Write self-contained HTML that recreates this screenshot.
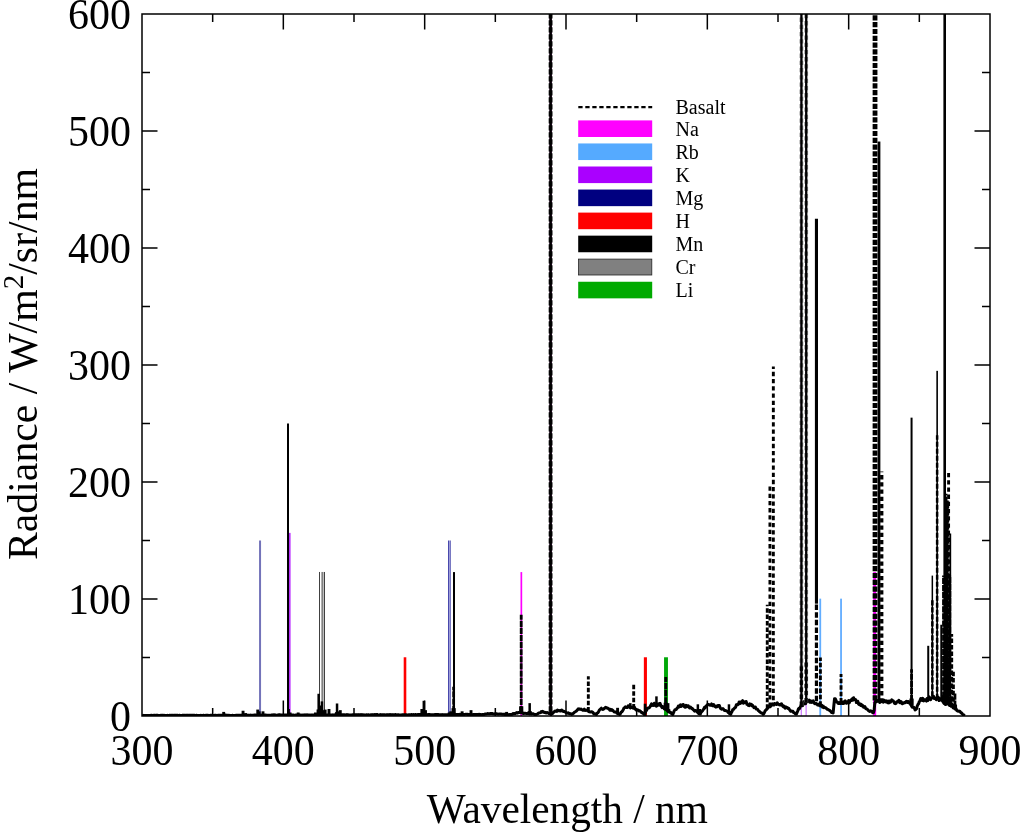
<!DOCTYPE html>
<html lang="en"><head><meta charset="utf-8"><title>Basalt emission spectrum</title>
<style>html,body{margin:0;padding:0;background:#fff}body{width:1020px;height:833px;overflow:hidden}svg{display:block}</style>
</head><body>
<svg width="1020" height="833" viewBox="0 0 1020 833">
<rect width="1020" height="833" fill="#fff"/>
<defs><clipPath id="c"><rect x="142.0" y="14.0" width="848.0" height="702.0"/></clipPath></defs>
<g clip-path="url(#c)">
<rect x="287.00" y="423.50" width="2.00" height="292.50" fill="#000000"/>
<rect x="289.00" y="532.89" width="1.60" height="183.11" fill="#bb33ff"/>
<rect x="403.70" y="657.27" width="2.60" height="58.73" fill="#ff0000"/>
<rect x="453.00" y="572.09" width="2.00" height="143.91" fill="#000000"/>
<rect x="520.49" y="572.09" width="1.70" height="143.91" fill="#ff00ff"/>
<rect x="549.74" y="-9.40" width="2.00" height="725.40" fill="#ff00ff"/>
<rect x="643.85" y="657.27" width="3.10" height="58.73" fill="#ff0000"/>
<rect x="664.05" y="657.27" width="3.90" height="58.73" fill="#00a808"/>
<rect x="800.67" y="-9.40" width="1.30" height="725.40" fill="#cf80ff"/>
<rect x="805.48" y="-9.40" width="1.30" height="725.40" fill="#cf80ff"/>
<rect x="814.90" y="218.75" width="3.10" height="384.93" fill="#000000"/>
<rect x="819.35" y="598.65" width="1.80" height="117.35" fill="#62adff"/>
<rect x="840.15" y="598.65" width="1.80" height="117.35" fill="#62adff"/>
<rect x="873.17" y="572.09" width="3.00" height="143.91" fill="#ff00ff"/>
<rect x="877.58" y="141.53" width="2.80" height="560.08" fill="#000000"/>
<rect x="910.56" y="417.65" width="2.00" height="287.33" fill="#000000"/>
<rect x="927.24" y="645.80" width="2.00" height="52.91" fill="#000000"/>
<rect x="931.59" y="575.60" width="1.50" height="122.35" fill="#000000"/>
<rect x="936.34" y="370.85" width="1.60" height="327.09" fill="#000000"/>
<rect x="940.29" y="624.74" width="1.90" height="75.53" fill="#000000"/>
<rect x="943.40" y="-9.40" width="2.60" height="711.67" fill="#000000"/>
<rect x="949.39" y="533.48" width="1.80" height="172.15" fill="#000000"/>
<rect x="259.05" y="540.50" width="2.00" height="175.50" fill="#7373b9"/>
<rect x="448.00" y="540.50" width="1.00" height="175.50" fill="#4848ac"/>
<rect x="449.00" y="540.50" width="1.00" height="175.50" fill="#9c9cd6"/>
<rect x="450.00" y="540.50" width="1.00" height="175.50" fill="#7878c2"/>
<rect x="319.00" y="571.97" width="1.00" height="144.03" fill="#404040"/>
<rect x="321.00" y="571.97" width="1.00" height="144.03" fill="#b0b0b0"/>
<rect x="322.00" y="571.97" width="1.00" height="144.03" fill="#808080"/>
<rect x="323.00" y="571.97" width="1.00" height="144.03" fill="#c0c0c0"/>
<rect x="324.00" y="571.97" width="1.00" height="144.03" fill="#404040"/>
</g>
<g clip-path="url(#c)" fill="none" stroke="#000">
<polyline stroke-width="3.0" stroke-linejoin="round" points="142.00,715.41 142.71,715.49 143.41,715.35 144.12,715.49 144.83,715.39 145.53,715.41 146.24,715.51 146.95,715.40 147.65,715.52 148.36,715.43 149.07,715.52 149.77,715.54 150.48,715.43 151.19,715.27 151.89,715.45 152.60,715.47 153.31,715.35 154.01,715.21 154.72,715.29 155.43,715.37 156.13,715.21 156.84,715.46 157.55,715.27 158.25,715.40 158.96,715.48 159.67,715.52 160.37,715.47 161.08,715.29 161.79,715.44 162.49,715.35 163.20,715.31 163.91,715.38 164.61,715.35 165.32,715.50 166.03,715.54 166.73,715.51 167.44,715.34 168.15,715.38 168.85,715.42 169.56,715.35 170.27,715.37 170.97,715.42 171.68,715.28 172.39,715.27 173.09,715.41 173.80,715.35 174.51,715.35 175.21,715.23 175.92,715.25 176.63,715.39 177.33,715.21 178.04,715.44 178.75,715.41 179.45,715.29 180.16,715.45 180.87,715.39 181.57,715.51 182.28,715.35 182.99,715.27 183.69,715.31 184.40,715.22 185.11,715.38 185.81,715.30 186.52,715.31 187.23,715.32 187.93,715.36 188.64,715.25 189.35,715.18 190.05,715.31 190.76,715.29 191.47,715.48 192.17,715.33 192.88,715.30 193.59,715.18 194.29,715.20 195.00,715.38 195.71,715.40 196.41,715.32 197.12,715.50 197.83,715.41 198.53,715.48 199.24,715.52 199.95,715.55 200.65,715.33 201.36,715.47 202.07,715.47 202.77,715.43 203.48,715.26 204.19,715.46 204.89,715.40 205.60,715.35 206.31,715.23 207.01,715.22 207.72,715.20 208.43,715.38 209.13,715.39 209.84,715.41 210.55,715.25 211.25,715.18 211.96,715.42 212.67,715.42 213.37,715.42 214.08,715.42 214.79,715.33 215.49,715.27 216.20,715.36 216.91,715.47 217.61,715.37 218.32,715.35 219.03,715.28 219.73,715.13 220.44,715.17 221.15,715.23 221.85,715.22 222.56,715.19 223.27,715.39 223.97,715.17 224.68,715.14 225.39,715.10 226.09,715.11 226.80,715.25 227.51,715.28 228.21,715.39 228.92,715.25 229.63,715.39 230.33,715.43 231.04,715.40 231.75,715.40 232.45,715.34 233.16,715.42 233.87,715.46 234.57,715.42 235.28,715.42 235.99,715.33 236.69,715.42 237.40,715.15 238.11,715.16 238.81,715.32 239.52,715.33 240.23,715.30 240.93,715.28 241.64,715.36 242.35,715.13 243.05,715.02 243.76,715.16 244.47,715.19 245.17,715.34 245.88,715.37 246.59,715.30 247.29,715.30 248.00,715.11 248.71,715.28 249.41,715.38 250.12,715.09 250.83,715.14 251.53,715.29 252.24,715.20 252.95,715.34 253.65,715.21 254.36,715.02 255.07,715.00 255.77,715.05 256.48,715.21 257.19,715.22 257.89,715.29 258.60,715.10 259.31,715.13 260.01,715.05 260.72,715.18 261.43,715.25 262.13,715.07 262.84,714.95 263.55,714.96 264.25,714.98 264.96,714.98 265.67,715.01 266.37,715.19 267.08,715.14 267.79,715.18 268.49,715.31 269.20,715.34 269.91,715.27 270.61,715.25 271.32,715.09 272.03,714.95 272.73,715.08 273.44,714.95 274.15,714.89 274.85,714.88 275.56,715.09 276.27,715.20 276.97,715.23 277.68,715.24 278.39,715.25 279.09,715.10 279.80,714.95 280.51,714.93 281.21,715.05 281.92,715.02 282.63,714.96 283.33,715.19 284.04,715.06 284.75,714.93 285.45,714.93 286.16,714.94 286.87,715.04 287.57,715.17 288.28,715.00 288.99,715.10 289.69,714.97 290.40,714.86 291.11,715.04 291.81,715.09 292.52,714.90 293.23,714.93 293.93,715.13 294.64,715.21 295.35,715.22 296.05,714.95 296.76,714.90 297.47,715.13 298.17,714.95 298.88,714.83 299.59,714.92 300.29,715.05 301.00,715.02 301.71,715.16 302.41,715.24 303.12,714.92 303.83,714.93 304.53,714.98 305.24,714.85 305.95,714.99 306.65,714.87 307.36,714.85 308.07,715.06 308.77,715.11 309.48,715.11 310.19,715.13 310.89,715.00 311.60,715.09 312.31,715.05 313.01,715.14 313.72,714.89 314.43,715.01 315.13,715.01 315.84,714.96 316.55,714.83 317.25,714.96 317.96,714.82 318.67,714.93 319.37,714.95 320.08,714.95 320.79,715.14 321.49,715.04 322.20,715.10 322.91,715.19 323.61,714.92 324.32,715.07 325.03,715.00 325.73,714.88 326.44,714.91 327.15,715.00 327.85,714.96 328.56,714.93 329.27,714.83 329.97,715.05 330.68,714.95 331.39,715.03 332.09,715.05 332.80,714.86 333.51,714.91 334.21,714.90 334.92,714.82 335.63,714.74 336.33,714.89 337.04,714.87 337.75,714.90 338.45,714.90 339.16,714.84 339.87,714.91 340.57,714.89 341.28,714.91 341.99,714.74 342.69,714.78 343.40,714.72 344.11,714.68 344.81,714.92 345.52,714.88 346.23,714.72 346.93,714.71 347.64,714.97 348.35,715.05 349.05,714.95 349.76,715.06 350.47,715.03 351.17,715.08 351.88,714.87 352.59,714.76 353.29,714.69 354.00,714.94 354.71,714.81 355.41,714.78 356.12,714.97 356.83,714.75 357.53,714.64 358.24,714.90 358.95,714.69 359.65,714.84 360.36,714.85 361.07,714.66 361.77,714.66 362.48,714.92 363.19,714.89 363.89,714.85 364.60,714.90 365.31,714.97 366.01,714.94 366.72,714.78 367.43,715.00 368.13,714.85 368.84,714.85 369.55,715.02 370.25,714.94 370.96,714.80 371.67,714.81 372.37,714.98 373.08,714.67 373.79,714.65 374.49,714.58 375.20,714.89 375.91,714.92 376.61,715.01 377.32,714.75 378.03,714.87 378.73,714.96 379.44,714.87 380.15,714.65 380.85,714.62 381.56,714.83 382.27,714.93 382.97,714.66 383.68,714.71 384.39,714.68 385.09,714.90 385.80,714.98 386.51,714.76 387.21,714.79 387.92,714.94 388.63,714.64 389.33,714.67 390.04,714.61 390.75,714.88 391.45,714.65 392.16,714.89 392.87,714.65 393.57,714.73 394.28,714.80 394.99,714.74 395.69,714.57 396.40,714.78 397.11,714.89 397.81,714.77 398.52,714.85 399.23,714.92 399.93,714.92 400.64,714.96 401.35,714.91 402.05,714.85 402.76,714.84 403.47,714.65 404.17,714.78 404.88,714.73 405.59,714.84 406.29,714.81 407.00,714.93 407.71,714.87 408.41,714.95 409.12,714.68 409.83,714.67 410.53,714.81 411.24,714.74 411.95,714.53 412.65,714.80 413.36,714.59 414.07,714.68 414.77,714.68 415.48,714.55 416.19,714.68 416.89,714.67 417.60,714.60 418.31,714.45 419.01,714.67 419.72,714.53 420.43,714.54 421.13,714.57 421.84,714.67 422.55,714.72 423.25,714.86 423.96,714.86 424.67,714.89 425.37,714.62 426.08,714.74 426.79,714.81 427.49,714.86 428.20,714.57 428.91,714.47 429.61,714.51 430.32,714.69 431.03,714.75 431.73,714.75 432.44,714.68 433.15,714.78 433.85,714.69 434.56,714.74 435.27,714.47 435.97,714.38 436.68,714.52 437.39,714.69 438.09,714.44 438.80,714.64 439.51,714.67 440.21,714.83 440.92,714.72 441.63,714.65 442.33,714.61 443.04,714.72 443.75,714.63 444.45,714.81 445.16,714.75 445.87,714.81 446.57,714.69 447.28,714.80 447.99,714.84 448.69,714.74 449.40,714.74 450.11,714.59 450.81,714.56 451.52,714.46 452.23,714.47 452.93,714.45 453.64,714.37 454.35,714.55 455.05,714.63 455.76,714.37 456.47,714.65 457.17,714.49 457.88,714.47 458.59,714.71 459.29,714.46 460.00,714.35 460.71,714.43 461.41,714.41 462.12,714.37 462.83,714.64 463.53,714.55 464.24,714.53 464.95,714.39 465.65,714.36 466.36,714.34 467.07,714.43 467.77,714.33 468.48,714.38 469.19,714.39 469.89,714.59 470.60,714.73 471.31,714.73 472.01,714.63 472.72,714.71 473.43,714.42 474.13,714.45 474.84,714.43 475.55,714.42 476.25,714.40 476.96,714.47 477.67,714.69 478.37,714.42 479.08,714.36 479.79,714.44 480.49,714.45 481.20,714.76 481.91,714.77 482.61,714.42 483.32,714.44 484.03,714.46 484.73,714.31 485.44,713.99 486.15,714.10 486.85,713.82 487.56,713.57 488.27,713.71 488.97,713.78 489.68,713.73 490.39,713.59 491.09,713.50 491.80,713.55 492.51,713.56 493.21,713.87 493.92,713.94 494.63,713.92 495.33,713.68 496.04,713.85 496.75,713.79 497.45,714.08 498.16,714.16 498.87,714.11 499.57,713.92 500.28,713.89 500.99,713.92 501.69,714.14 502.40,714.14 503.11,714.20 503.81,714.25 504.52,714.46 505.23,714.22 505.93,714.49 506.64,714.27 507.35,714.27 508.05,714.70 508.76,714.69 509.47,714.59 510.17,714.39 510.88,714.75 511.59,714.55 512.29,714.39 513.00,713.58 513.71,713.83 514.41,713.44 515.12,713.63 515.83,713.23 516.53,712.58 517.24,713.17 517.95,712.57 518.65,712.69 519.36,712.30 520.07,712.37 520.77,712.92 521.48,712.39 522.19,712.71 522.89,713.32 523.60,713.57 524.31,713.17 525.01,713.15 525.72,713.34 526.43,713.61 527.13,713.55 527.84,713.62 528.55,713.21 529.25,713.93 529.96,713.55 530.67,713.43 531.37,714.09 532.08,713.70 532.79,713.85 533.49,713.84 534.20,714.39 534.91,714.58 535.61,714.72 536.32,714.44 537.03,714.19 537.73,713.70 538.44,713.15 539.15,712.88 539.85,712.86 540.56,712.67 541.27,711.62 541.97,711.99 542.68,711.36 543.39,712.11 544.09,712.42 544.80,712.35 545.51,712.84 546.21,712.93 546.92,712.53 547.63,712.69 548.33,713.03 549.04,713.52 549.75,713.67 550.45,713.96 551.16,714.59 551.87,713.69 552.57,713.55 553.28,712.42 553.99,712.05 554.69,711.25 555.40,710.90 556.11,711.11 556.81,711.40 557.52,710.06 558.23,710.85 558.93,710.57 559.64,710.75 560.35,710.95 561.05,710.44 561.76,710.06 562.47,711.12 563.17,711.01 563.88,711.61 564.59,711.61 565.29,711.99 566.00,712.55 566.71,712.90 567.41,713.13 568.12,712.67 568.83,713.17 569.53,713.80 570.24,713.62 570.95,713.76 571.65,714.47 572.36,714.19 573.07,713.45 573.77,712.95 574.48,712.12 575.19,711.89 575.89,711.32 576.60,710.88 577.31,710.03 578.01,709.06 578.72,708.85 579.43,709.29 580.13,709.38 580.84,709.22 581.55,709.49 582.25,709.71 582.96,710.34 583.67,710.26 584.37,709.19 585.08,710.40 585.79,710.28 586.49,710.20 587.20,709.99 587.91,711.07 588.61,711.48 589.32,711.81 590.03,711.89 590.73,712.06 591.44,711.72 592.15,711.99 592.85,712.29 593.56,713.48 594.27,714.04 594.97,713.85 595.68,713.91 596.39,714.52 597.09,713.12 597.80,712.86 598.51,711.83 599.21,710.31 599.92,709.57 600.63,708.93 601.33,708.21 602.04,709.07 602.75,709.43 603.45,709.35 604.16,708.55 604.87,707.99 605.57,707.37 606.28,707.72 606.99,708.08 607.69,708.10 608.40,708.82 609.11,709.03 609.81,710.16 610.52,709.40 611.23,710.29 611.93,709.66 612.64,710.14 613.35,711.02 614.05,711.76 614.76,712.05 615.47,711.90 616.17,712.06 616.88,713.05 617.59,713.64 618.29,713.67 619.00,713.94 619.71,714.49 620.41,713.73 621.12,712.17 621.83,711.86 622.53,710.82 623.24,709.74 623.95,708.05 624.65,707.72 625.36,706.79 626.07,707.11 626.77,707.55 627.48,707.54 628.19,705.83 628.89,705.92 629.60,706.94 630.31,708.00 631.01,707.37 631.72,706.95 632.43,707.55 633.13,708.26 633.84,707.83 634.55,707.42 635.25,708.89 635.96,709.92 636.67,709.92 637.37,710.05 638.08,709.94 638.79,710.96 639.49,710.70 640.20,711.04 640.91,711.79 641.61,712.70 642.32,712.50 643.03,713.47 643.73,713.69 644.44,714.60 645.15,712.90 645.85,710.99 646.56,710.39 647.27,708.40 647.97,708.04 648.68,708.07 649.39,707.57 650.09,706.59 650.80,705.33 651.51,703.92 652.21,705.39 652.92,705.02 653.63,705.32 654.33,703.27 655.04,705.01 655.75,705.88 656.45,706.22 657.16,705.56 657.87,704.19 658.57,704.03 659.28,704.58 659.99,704.33 660.69,704.68 661.40,706.48 662.11,707.59 662.81,706.54 663.52,706.95 664.23,708.84 664.93,708.46 665.64,709.22 666.35,709.78 667.05,710.35 667.76,711.12 668.47,711.92 669.17,712.13 669.88,712.47 670.59,712.30 671.29,713.52 672.00,713.55 672.71,714.60 673.41,712.89 674.12,711.13 674.83,709.87 675.53,709.50 676.24,709.58 676.95,708.33 677.65,707.75 678.36,705.98 679.07,706.83 679.77,706.43 680.48,704.80 681.19,706.37 681.89,705.80 682.60,704.58 683.31,704.40 684.01,706.31 684.72,707.01 685.43,707.27 686.13,705.40 686.84,706.62 687.55,706.03 688.25,705.73 688.96,707.13 689.67,707.92 690.37,706.97 691.08,707.66 691.79,708.84 692.49,708.63 693.20,709.58 693.91,710.23 694.61,711.16 695.32,710.60 696.03,710.58 696.73,711.33 697.44,711.56 698.15,713.04 698.85,713.61 699.56,713.93 700.27,714.06 700.97,712.41 701.68,711.69 702.39,711.01 703.09,709.93 703.80,708.93 704.51,707.24 705.21,707.82 705.92,706.21 706.63,705.49 707.33,704.74 708.04,704.36 708.75,704.47 709.45,705.09 710.16,705.22 710.87,705.10 711.57,703.94 712.28,705.59 712.99,705.85 713.69,704.57 714.40,705.66 715.11,706.60 715.81,707.11 716.52,706.14 717.23,706.61 717.93,705.40 718.64,705.52 719.35,705.58 720.05,707.45 720.76,708.63 721.47,709.20 722.17,708.84 722.88,708.63 723.59,709.35 724.29,710.23 725.00,710.49 725.71,710.59 726.41,710.89 727.12,711.24 727.83,711.61 728.53,712.31 729.24,713.45 729.95,713.49 730.65,714.35 731.36,712.60 732.07,711.38 732.77,709.66 733.48,709.37 734.19,708.59 734.89,707.81 735.60,707.30 736.31,704.85 737.01,704.45 737.72,704.64 738.43,704.19 739.13,702.01 739.84,702.59 740.55,703.45 741.25,701.81 741.96,701.74 742.67,700.67 743.37,703.23 744.08,702.93 744.79,701.91 745.49,701.69 746.20,701.59 746.91,704.34 747.61,704.61 748.32,705.39 749.03,705.63 749.73,703.81 750.44,704.58 751.15,704.20 751.85,705.78 752.56,705.35 753.27,706.52 753.97,707.60 754.68,707.12 755.39,707.00 756.09,708.97 756.80,708.98 757.51,709.32 758.21,710.46 758.92,710.92 759.63,711.75 760.33,712.28 761.04,712.76 761.75,712.93 762.45,713.37 763.16,714.31 763.87,713.66 764.57,712.15 765.28,710.50 765.99,710.14 766.69,709.25 767.40,708.69 768.11,706.77 768.81,706.28 769.52,706.92 770.23,706.71 770.93,705.59 771.64,704.59 772.35,703.83 773.05,705.00 773.76,705.05 774.47,703.46 775.17,703.81 775.88,704.34 776.59,704.51 777.29,702.82 778.00,704.27 778.71,704.13 779.41,704.83 780.12,705.05 780.83,704.11 781.53,703.71 782.24,705.44 782.95,706.58 783.65,705.87 784.36,707.14 785.07,708.21 785.77,706.80 786.48,707.70 787.19,707.45 787.89,708.50 788.60,708.23 789.31,709.24 790.01,710.36 790.72,711.23 791.43,710.99 792.13,711.15 792.84,711.23 793.55,712.61 794.25,712.79 794.96,713.48 795.67,713.95 796.37,714.08 797.08,712.40 797.79,710.80 798.49,708.85 799.20,709.06 799.91,707.75 800.61,706.05 801.32,704.55 802.03,705.55 802.73,705.64 803.44,702.98 804.15,701.68 804.85,702.46 805.56,703.78 806.27,701.19 806.97,701.98 807.68,700.39 808.39,700.78 809.09,700.18 809.80,702.25 810.51,700.85 811.21,702.40 811.92,702.37 812.63,701.06 813.33,700.87 814.04,703.03 814.75,703.73 815.45,703.55 816.16,703.32 816.87,703.86 817.57,704.98 818.28,705.16 818.99,704.11 819.69,703.58 820.40,705.95 821.11,705.55 821.81,705.21 822.52,707.13 823.23,706.09 823.93,707.70 824.64,707.40 825.35,707.72 826.05,707.97 826.76,708.97 827.47,709.36 828.17,709.51 828.88,710.15 829.59,710.30 830.29,711.00 831.00,711.56 831.71,712.57 832.41,712.51 833.12,712.98 833.83,705.72 834.53,698.63 835.24,698.67 835.95,700.23 836.65,702.02 837.36,701.90 838.07,703.36 838.77,703.59 839.48,702.68 840.19,703.50 840.89,702.61 841.60,702.12 842.31,703.50 843.01,701.98 843.72,703.33 844.43,701.61 845.13,700.95 845.84,701.62 846.55,703.31 847.25,702.35 847.96,702.48 848.67,700.65 849.37,702.75 850.08,701.03 850.79,700.07 851.49,700.37 852.20,698.82 852.91,700.16 853.61,697.69 854.32,699.47 855.03,699.43 855.73,699.67 856.44,702.55 857.15,701.73 857.85,701.40 858.56,704.23 859.27,704.54 859.97,703.81 860.68,705.54 861.39,704.43 862.09,706.01 862.80,705.48 863.51,707.23 864.21,707.24 864.92,706.68 865.63,708.32 866.33,709.00 867.04,709.05 867.75,709.72 868.45,710.69 869.16,711.03 869.87,711.45 870.57,710.79 871.28,711.29 871.99,711.51 872.69,712.75 873.40,712.78 874.11,710.26 874.81,703.13 875.52,701.18 876.23,701.95 876.93,700.47 877.64,701.08 878.35,701.18 879.05,700.21 879.76,702.51 880.47,700.24 881.17,700.77 881.88,701.71 882.59,700.65 883.29,702.10 884.00,700.12 884.71,700.91 885.41,701.86 886.12,700.80 886.83,701.56 887.53,702.67 888.24,701.12 888.95,702.96 889.65,700.95 890.36,702.23 891.07,701.33 891.77,699.91 892.48,700.81 893.19,700.83 893.89,702.00 894.60,703.38 895.31,703.69 896.01,703.40 896.72,701.76 897.43,701.88 898.13,701.65 898.84,700.30 899.55,702.44 900.25,702.77 900.96,701.45 901.67,703.15 902.37,703.73 903.08,702.73 903.79,703.25 904.49,702.58 905.20,702.82 905.91,701.69 906.61,701.34 907.32,702.51 908.03,701.47 908.73,701.65 909.44,703.19 910.15,702.01 910.85,704.42 911.56,706.04 912.27,707.28 912.97,707.05 913.68,707.23 914.39,708.22 915.09,709.89 915.80,709.42 916.51,708.75 917.21,706.16 917.92,704.57 918.63,703.71 919.33,701.53 920.04,700.55 920.75,698.54 921.45,698.64 922.16,700.37 922.87,698.37 923.57,700.88 924.28,699.72 924.99,699.75 925.69,700.31 926.40,701.09 927.11,698.45 927.81,700.55 928.52,698.99 929.23,696.88 929.93,699.33 930.64,699.75 931.35,698.14 932.05,697.98 932.76,697.29 933.47,696.28 934.17,698.52 934.88,698.54 935.59,698.50 936.29,699.70 937.00,696.94 937.71,696.85 938.41,697.39 939.12,700.58 939.83,698.62 940.53,698.71 941.24,700.04 941.95,699.75 942.65,700.97 943.36,702.38 944.07,703.46 944.77,703.64 945.48,704.56 946.19,704.20 946.89,703.15 947.60,703.32 948.31,703.27 949.01,703.94 949.72,705.62 950.43,705.69 951.13,706.30 951.84,705.97 952.55,706.81 953.25,707.93 953.96,707.79 954.67,707.45 955.37,709.11 956.08,708.74 956.79,710.44 957.49,710.86 958.20,711.34 958.91,711.12 959.61,711.17 960.32,711.83 961.03,712.88 961.73,713.04 962.44,713.99 963.15,714.75 963.85,715.02 964.56,715.89 964.84,716.00"/>
<path d="M223.69 715.85V711.90" stroke-width="2.9"/>
<path d="M243.05 715.79V710.74" stroke-width="2.9"/>
<path d="M245.60 715.78V713.08" stroke-width="2.9"/>
<path d="M257.75 715.75V709.57" stroke-width="2.9"/>
<path d="M259.17 715.74V711.32" stroke-width="2.9"/>
<path d="M262.98 715.73V711.32" stroke-width="2.9"/>
<path d="M274.01 715.70V713.66" stroke-width="2.9"/>
<path d="M278.95 715.68V713.43" stroke-width="2.9"/>
<path d="M288.42 715.65V708.98" stroke-width="2.9"/>
<path d="M290.12 715.65V712.49" stroke-width="2.9"/>
<path d="M298.17 715.62V712.49" stroke-width="2.9"/>
<path d="M315.42 715.57V712.49" stroke-width="2.9"/>
<path d="M318.67 715.56V693.77" stroke-width="2.5"/>
<path d="M318.67 715.56V709.46" stroke-width="4.2"/>
<path d="M319.94 715.56V705.47" stroke-width="2.5"/>
<path d="M319.94 715.56V712.73" stroke-width="4.2"/>
<path d="M321.92 715.55V701.38" stroke-width="2.5"/>
<path d="M321.92 715.55V711.58" stroke-width="4.2"/>
<path d="M323.33 715.55V710.15" stroke-width="2.9"/>
<path d="M325.17 715.54V709.57" stroke-width="2.9"/>
<path d="M328.98 715.53V708.98" stroke-width="2.9"/>
<path d="M337.04 715.50V703.48" stroke-width="2.5"/>
<path d="M337.04 715.50V712.14" stroke-width="4.2"/>
<path d="M338.31 715.50V711.32" stroke-width="2.9"/>
<path d="M340.29 715.49V710.15" stroke-width="2.9"/>
<path d="M347.64 715.47V713.66" stroke-width="2.9"/>
<path d="M361.77 715.43V713.66" stroke-width="2.9"/>
<path d="M376.61 715.38V713.08" stroke-width="2.9"/>
<path d="M421.84 715.25V708.98" stroke-width="2.9"/>
<path d="M423.82 715.24V700.79" stroke-width="2.5"/>
<path d="M423.82 715.24V711.19" stroke-width="4.2"/>
<path d="M425.51 715.23V710.15" stroke-width="2.9"/>
<path d="M449.12 715.16V712.49" stroke-width="2.9"/>
<path d="M450.67 715.16V711.32" stroke-width="2.9"/>
<path d="M453.64 715.15V686.75" stroke-width="2.8" stroke-dasharray="6.2 0.9" stroke-dashoffset="3.7"/>
<path d="M453.64 715.15V708.15" stroke-width="4.2"/>
<path d="M462.12 715.12V711.32" stroke-width="2.9"/>
<path d="M471.02 715.10V710.15" stroke-width="2.9"/>
<path d="M506.64 715.04V711.90" stroke-width="2.9"/>
<path d="M521.20 713.34V614.79" stroke-width="2.8" stroke-dasharray="6.2 0.9" stroke-dashoffset="5.9"/>
<path d="M521.20 713.34V706.34" stroke-width="4.2"/>
<path d="M529.68 714.20V703.13" stroke-width="2.5"/>
<path d="M529.68 714.20V711.10" stroke-width="4.2"/>
<path d="M550.59 715.06V10.00" stroke-width="2.6"/>
<path d="M550.59 715.06V10.00" stroke-width="3.8" stroke-dasharray="5.4 1.6" stroke-dashoffset="3.5"/>
<path d="M556.81 711.24V710.15" stroke-width="2.9"/>
<path d="M580.56 709.80V707.81" stroke-width="2.9"/>
<path d="M588.33 711.57V676.22" stroke-width="2.9" stroke-dasharray="4.5 1.9" stroke-dashoffset="0.0"/>
<path d="M617.59 713.69V707.81" stroke-width="2.9"/>
<path d="M630.31 707.44V703.13" stroke-width="2.5"/>
<path d="M630.31 707.44V706.23" stroke-width="4.2"/>
<path d="M633.70 708.53V684.41" stroke-width="2.9" stroke-dasharray="4.5 1.9" stroke-dashoffset="0.0"/>
<path d="M645.08 716.00V703.72" stroke-width="2.6"/>
<path d="M652.21 705.41V703.13" stroke-width="2.5"/>
<path d="M652.21 705.41V704.77" stroke-width="4.2"/>
<path d="M656.45 705.18V696.34" stroke-width="2.5"/>
<path d="M656.45 705.18V702.71" stroke-width="4.2"/>
<path d="M659.99 706.43V701.96" stroke-width="2.5"/>
<path d="M659.99 706.43V705.18" stroke-width="4.2"/>
<path d="M665.78 709.70V676.92" stroke-width="2.8" stroke-dasharray="6.2 0.9" stroke-dashoffset="0.8"/>
<path d="M665.78 709.70V702.70" stroke-width="4.2"/>
<path d="M668.18 711.40V703.13" stroke-width="2.5"/>
<path d="M668.18 711.40V709.09" stroke-width="4.2"/>
<path d="M697.86 713.09V704.30" stroke-width="2.5"/>
<path d="M697.86 713.09V710.63" stroke-width="4.2"/>
<path d="M699.70 714.50V708.98" stroke-width="2.9"/>
<path d="M728.96 713.55V704.30" stroke-width="2.5"/>
<path d="M728.96 713.55V710.96" stroke-width="4.2"/>
<path d="M767.26 708.68V604.85" stroke-width="2.9" stroke-dasharray="4.5 1.9" stroke-dashoffset="0.0"/>
<path d="M769.94 706.18V484.34" stroke-width="2.9" stroke-dasharray="4.3 2.9" stroke-dashoffset="0.6"/>
<path d="M773.34 704.44V366.52" stroke-width="2.9" stroke-dasharray="4.3 2.9" stroke-dashoffset="2.9"/>
<path d="M816.44 602.51V703.89" stroke-width="3.2" stroke-dasharray="5.5 2.1" stroke-dashoffset="5.5"/>
<path d="M820.40 705.68V657.50" stroke-width="2.9" stroke-dasharray="4.5 1.9" stroke-dashoffset="0.0"/>
<path d="M841.03 702.54V673.88" stroke-width="2.9" stroke-dasharray="4.5 1.9" stroke-dashoffset="0.0"/>
<path d="M875.03 702.19V10.00" stroke-width="4.8" stroke-dasharray="5.2 1.6" stroke-dashoffset="5.1"/>
<path d="M881.74 702.19V471.47" stroke-width="3.3" stroke-dasharray="4.3 2.9" stroke-dashoffset="0.4"/>
<path d="M911.56 705.56V669.20" stroke-width="2.8" stroke-dasharray="6.2 0.9" stroke-dashoffset="2.7"/>
<path d="M911.56 705.56V698.56" stroke-width="4.2"/>
<path d="M932.34 698.53V599.00" stroke-width="2.5" stroke-dasharray="5.2 1.8" stroke-dashoffset="5.0"/>
<path d="M937.14 698.53V435.20" stroke-width="2.5" stroke-dasharray="5.2 1.8" stroke-dashoffset="0.3"/>
<path d="M943.50 702.16V575.60" stroke-width="2.8" stroke-dasharray="6.2 0.9" stroke-dashoffset="2.6"/>
<path d="M943.50 702.16V695.16" stroke-width="4.2"/>
<path d="M946.05 703.65V493.70" stroke-width="2.8" stroke-dasharray="6.2 0.9" stroke-dashoffset="4.9"/>
<path d="M946.05 703.65V696.65" stroke-width="4.2"/>
<path d="M947.32 704.41V500.72" stroke-width="2.6"/>
<path d="M947.32 704.41V500.72" stroke-width="3.8" stroke-dasharray="5.4 1.6" stroke-dashoffset="0.2"/>
<path d="M948.59 705.18V471.47" stroke-width="2.9" stroke-dasharray="4.3 2.9" stroke-dashoffset="2.5"/>
<path d="M949.86 705.96V575.60" stroke-width="2.8" stroke-dasharray="6.2 0.9" stroke-dashoffset="4.8"/>
<path d="M949.86 705.96V698.96" stroke-width="4.2"/>
<path d="M951.70 707.10V634.10" stroke-width="2.9" stroke-dasharray="4.5 1.9" stroke-dashoffset="0.0"/>
<path d="M953.39 708.17V670.37" stroke-width="2.9" stroke-dasharray="4.5 1.9" stroke-dashoffset="0.0"/>
<path d="M954.95 709.18V692.60" stroke-width="2.8" stroke-dasharray="6.2 0.9" stroke-dashoffset="4.7"/>
<path d="M954.95 709.18V704.54" stroke-width="4.2"/>
</g>
<g clip-path="url(#c)" fill="none" stroke="#000">
<path d="M801.42 705.9V12.0" stroke-width="3.7" stroke="#8c8c8c" stroke-dasharray="4.3 2.9"/>
<path d="M801.42 705.9V12.0" stroke-width="2.3"/>
<path d="M801.32 705.9V665.9" stroke-width="3.0" stroke-dasharray="4.3 2.7"/>
<path d="M806.23 702.2V12.0" stroke-width="3.7" stroke="#8c8c8c" stroke-dasharray="4.3 2.9"/>
<path d="M806.23 702.2V12.0" stroke-width="2.3"/>
<path d="M806.13 702.2V662.2" stroke-width="3.0" stroke-dasharray="4.3 2.7"/>
</g>
<g stroke="#000" stroke-width="1.5" fill="none">
<rect x="142.0" y="14.0" width="848.0" height="702.0"/>
<path d="M212.67 716.0v-8.0M212.67 14.0v8.0"/>
<path d="M283.33 716.0v-15.5M283.33 14.0v15.5"/>
<path d="M354.00 716.0v-8.0M354.00 14.0v8.0"/>
<path d="M424.67 716.0v-15.5M424.67 14.0v15.5"/>
<path d="M495.33 716.0v-8.0M495.33 14.0v8.0"/>
<path d="M566.00 716.0v-15.5M566.00 14.0v15.5"/>
<path d="M636.67 716.0v-8.0M636.67 14.0v8.0"/>
<path d="M707.33 716.0v-15.5M707.33 14.0v15.5"/>
<path d="M778.00 716.0v-8.0M778.00 14.0v8.0"/>
<path d="M848.67 716.0v-15.5M848.67 14.0v15.5"/>
<path d="M919.33 716.0v-8.0M919.33 14.0v8.0"/>
<path d="M142.0 657.50h8.0M990.0 657.50h-8.0"/>
<path d="M142.0 599.00h15.5M990.0 599.00h-15.5"/>
<path d="M142.0 540.50h8.0M990.0 540.50h-8.0"/>
<path d="M142.0 482.00h15.5M990.0 482.00h-15.5"/>
<path d="M142.0 423.50h8.0M990.0 423.50h-8.0"/>
<path d="M142.0 365.00h15.5M990.0 365.00h-15.5"/>
<path d="M142.0 306.50h8.0M990.0 306.50h-8.0"/>
<path d="M142.0 248.00h15.5M990.0 248.00h-15.5"/>
<path d="M142.0 189.50h8.0M990.0 189.50h-8.0"/>
<path d="M142.0 131.00h15.5M990.0 131.00h-15.5"/>
<path d="M142.0 72.50h8.0M990.0 72.50h-8.0"/>
</g>
<g font-family="'Liberation Serif', 'Times New Roman', serif" font-size="41.5" fill="#000">
<text transform="translate(142.0 764.6) scale(1.012 1.060)" text-anchor="middle">300</text>
<text transform="translate(283.3 764.6) scale(1.012 1.060)" text-anchor="middle">400</text>
<text transform="translate(424.7 764.6) scale(1.012 1.060)" text-anchor="middle">500</text>
<text transform="translate(566.0 764.6) scale(1.012 1.060)" text-anchor="middle">600</text>
<text transform="translate(707.3 764.6) scale(1.012 1.060)" text-anchor="middle">700</text>
<text transform="translate(848.7 764.6) scale(1.012 1.060)" text-anchor="middle">800</text>
<text transform="translate(990.0 764.6) scale(1.012 1.060)" text-anchor="middle">900</text>
<text transform="translate(131 730.8) scale(1.012 1.060)" text-anchor="end">0</text>
<text transform="translate(131 613.8) scale(1.012 1.060)" text-anchor="end">100</text>
<text transform="translate(131 496.8) scale(1.012 1.060)" text-anchor="end">200</text>
<text transform="translate(131 379.8) scale(1.012 1.060)" text-anchor="end">300</text>
<text transform="translate(131 262.8) scale(1.012 1.060)" text-anchor="end">400</text>
<text transform="translate(131 145.8) scale(1.012 1.060)" text-anchor="end">500</text>
<text transform="translate(131 28.8) scale(1.012 1.060)" text-anchor="end">600</text>
<text x="567.3" y="823.2" text-anchor="middle" font-size="41.3">Wavelength / nm</text>
<text transform="translate(37 364) rotate(-90)" text-anchor="middle" font-size="41.8">Radiance / W/m<tspan font-size="29" dy="-14.5">2</tspan><tspan dy="14.5">/sr/nm</tspan></text>
</g>
<g font-family="'Liberation Serif', 'Times New Roman', serif" font-size="20" fill="#000">
<path d="M578.3 107.2H652.2" stroke="#000" stroke-width="2.2" stroke-dasharray="4.3 2.7" fill="none"/>
<text x="675.5" y="113.5">Basalt</text>
<rect x="578.2" y="120.40" width="74" height="16.6" fill="#ff00ff"/>
<text x="675.5" y="135.60">Na</text>
<rect x="578.2" y="143.45" width="74" height="16.6" fill="#55aaff"/>
<text x="675.5" y="158.65">Rb</text>
<rect x="578.2" y="166.50" width="74" height="16.6" fill="#aa00ff"/>
<text x="675.5" y="181.70">K</text>
<rect x="578.2" y="189.55" width="74" height="16.6" fill="#000080"/>
<text x="675.5" y="204.75">Mg</text>
<rect x="578.2" y="212.60" width="74" height="16.6" fill="#ff0000"/>
<text x="675.5" y="227.80">H</text>
<rect x="578.2" y="235.65" width="74" height="16.6" fill="#000000"/>
<text x="675.5" y="250.85">Mn</text>
<rect x="578.6" y="259.10" width="73.2" height="15.9" fill="#808080" stroke="#222" stroke-width="0.8"/>
<text x="675.5" y="273.90">Cr</text>
<rect x="578.2" y="281.75" width="74" height="16.6" fill="#00aa00"/>
<text x="675.5" y="296.95">Li</text>
</g>
</svg>
</body></html>
